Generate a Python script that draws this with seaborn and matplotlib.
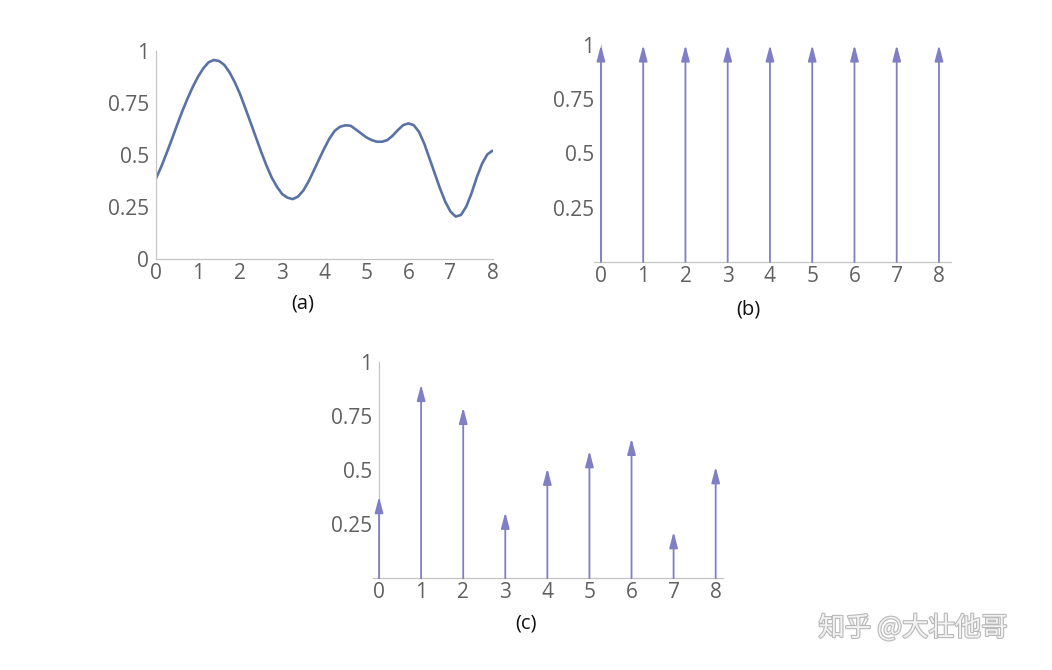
import numpy as np
import pandas as pd
import matplotlib
matplotlib.use("Agg")
import matplotlib.pyplot as plt
import matplotlib.patheffects as pe
import seaborn as sns

sns.set_theme(style="white")
plt.rcParams['font.family'] = ['Open Sans', 'Noto Sans CJK SC', 'DejaVu Sans']

# continuous signal, every 1/8
t_x = [0, 0.125, 0.25, 0.375, 0.5, 0.625, 0.75, 0.875,
       1.0, 1.125, 1.25, 1.375, 1.5, 1.625, 1.75, 1.875,
       2.0, 2.125, 2.25, 2.375, 2.5, 2.625, 2.75, 2.875,
       3.0, 3.125, 3.25, 3.375, 3.5, 3.625, 3.75, 3.875,
       4.0, 4.125, 4.25, 4.375, 4.5, 4.625, 4.75, 4.875,
       5.0, 5.125, 5.25, 5.375, 5.5, 5.625, 5.75, 5.875,
       6.0, 6.125, 6.25, 6.375, 6.5, 6.625, 6.75, 6.875,
       7.0, 7.125, 7.25, 7.375, 7.5, 7.625, 7.75, 7.875, 8.0]
t_y = [0.388, 0.444, 0.508, 0.575, 0.644, 0.711, 0.772, 0.828,
       0.877, 0.917, 0.946, 0.957, 0.952, 0.933, 0.897, 0.849,
       0.792, 0.724, 0.655, 0.585, 0.515, 0.450, 0.392, 0.347,
       0.312, 0.295, 0.288, 0.300, 0.329, 0.372, 0.425, 0.479,
       0.532, 0.580, 0.617, 0.636, 0.643, 0.641, 0.623, 0.604,
       0.585, 0.572, 0.564, 0.564, 0.572, 0.593, 0.620, 0.644,
       0.652, 0.644, 0.612, 0.556, 0.484, 0.412, 0.340, 0.276,
       0.228, 0.204, 0.212, 0.252, 0.316, 0.393, 0.458, 0.503, 0.521]

# impulse train (b) and sampled signal (c)
n = [0, 1, 2, 3, 4, 5, 6, 7, 8]
comb = [1, 1, 1, 1, 1, 1, 1, 1, 1]
samples = [0.377, 0.895, 0.789, 0.305, 0.508, 0.589, 0.646, 0.215, 0.515]

line_col = "#5872a6"
arrow_col = "#7f7fc6"
axis_col = "#c4c4c4"
label_col = "#606060"

fig = plt.figure(figsize=(10.52, 6.70), dpi=100)
ax_a = fig.add_axes([0.1483, 0.6134, 0.3199, 0.3104])
ax_b = fig.add_axes([0.5648, 0.6090, 0.3390, 0.3239])
ax_c = fig.add_axes([0.3543, 0.1369, 0.3328, 0.3232])


def style_axes(ax, xlim, yticks, ylabels):
    ax.set_xlim(*xlim)
    ax.set_ylim(0, 1)
    for s in ["top", "right"]:
        ax.spines[s].set_visible(False)
    for s in ["left", "bottom"]:
        ax.spines[s].set_color(axis_col)
        ax.spines[s].set_linewidth(0.9)
    ax.spines["left"].set_position(("data", 0))
    ax.set_xticks(n)
    ax.set_xticklabels([str(v) for v in n])
    ax.set_yticks(yticks)
    ax.set_yticklabels(ylabels)
    ax.tick_params(direction="in", length=4, width=0.8, color=axis_col,
                   labelcolor=label_col, labelsize=15, pad=3)
    ax.tick_params(axis="y", pad=5)
    ax.set_xlabel("")
    ax.set_ylabel("")
    ax.grid(False)
    ax.patch.set_alpha(0)


# (a) continuous signal
df_a = pd.DataFrame({"t": t_x, "y": t_y})
sns.lineplot(data=df_a, x="t", y="y", ax=ax_a, color=line_col, linewidth=1.9)
style_axes(ax_a, (0, 8), [0, 0.25, 0.5, 0.75, 1], ["0", "0.25", "0.5", "0.75", "1"])


def stems(ax, vals):
    for x, v in zip(n, vals):
        ax.annotate("", xy=(x, v), xytext=(x, 0), xycoords="data",
                    arrowprops=dict(arrowstyle="-|>,head_length=0.95,head_width=0.25",
                                    color=arrow_col, lw=1.3, shrinkA=0, shrinkB=0,
                                    mutation_scale=10))


# (b) impulse train
stems(ax_b, comb)
style_axes(ax_b, (-0.16, 8.28), [0.25, 0.5, 0.75, 1], ["0.25", "0.5", "0.75", "1"])

# (c) sampled signal
stems(ax_c, samples)
style_axes(ax_c, (-0.15, 8.17), [0.25, 0.5, 0.75, 1], ["0.25", "0.5", "0.75", "1"])

fig.text(303 / 1052, 1 - 304 / 670, "(a)", ha="center", va="center", fontsize=14.5, color="#111111")
fig.text(748 / 1052, 1 - 310 / 670, "(b)", ha="center", va="center", fontsize=14.5, color="#111111")
fig.text(526 / 1052, 1 - 624 / 670, "(c)", ha="center", va="center", fontsize=14.5, color="#111111")

# watermark
fig.text(913 / 1052, 1 - 628 / 670, "知乎 @大壮他哥", ha="center", va="center",
         fontsize=19, color="#f2f2f2",
         family=["Noto Sans CJK SC", "DejaVu Sans"],
         path_effects=[pe.withStroke(linewidth=1.6, foreground="#b8b8b8")])

fig.savefig("out.png", dpi=100)
